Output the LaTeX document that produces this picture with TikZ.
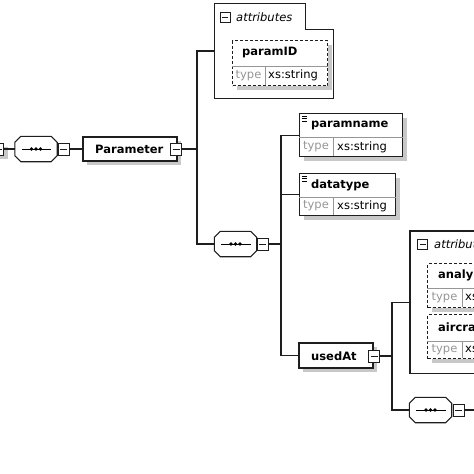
\documentclass[tikz,border=0pt]{standalone}
\usepackage{fontspec}
\setmainfont{DejaVu Sans}
\usetikzlibrary{shadows}
\definecolor{xsdline}{RGB}{30,30,30}
\definecolor{xsdgrey}{RGB}{150,150,150}
\definecolor{xsdshadow}{RGB}{200,200,200}

\begin{document}
\fontsize{11.5}{13}\selectfont
\begin{tikzpicture}[x=1pt,y=-1pt]

%
% Styles
%
\tikzstyle{lifted}    = [drop shadow={shadow xshift=4pt,shadow yshift=-4pt,fill=xsdshadow,opacity=1}]
\tikzstyle{element}   = [rectangle,draw=xsdline,fill=white,line width=1.1pt,inner sep=0pt,lifted]
\tikzstyle{attribute} = [element,dash pattern=on 3pt off 2pt]
\tikzstyle{sequence}  = [rectangle,minimum width=42pt,minimum height=25pt,inner sep=0pt]
\tikzstyle{collapse}  = [rectangle,draw=xsdline,fill=white,line width=1pt,minimum width=11pt,minimum height=12pt,inner sep=0pt,
                         path picture={\draw[line width=0.9pt] ([xshift=2pt]path picture bounding box.west) -- ([xshift=-2pt]path picture bounding box.east);}]
\tikzstyle{elemname}  = [anchor=west,inner sep=0pt,font=\bfseries]
\tikzstyle{typekey}   = [inner sep=0pt,text=xsdgrey]
\tikzstyle{typeval}   = [anchor=west,inner sep=0pt]
\tikzstyle{divider}   = [draw=xsdgrey,line width=0.8pt]
\tikzstyle{link}      = [draw=xsdline,line width=1.1pt]

\useasboundingbox (0,0) rectangle (474,474);
\clip (0,0) rectangle (474,474);

% Parameter and its parent
\node[collapse,lifted] (stub) at (-2,149) {};
\node[element,minimum width=94pt,minimum height=24pt] (param) at (130,149) {};
\node[elemname] (paramn) at (95,149) {Parameter};
\node[collapse] (paramf) at (176,149) {};
\coordinate (fork1) at (197,149);

% attributes of Parameter
\node[minimum width=118pt,minimum height=94pt,inner sep=0pt] (attrs1) at (274,51) {};
\draw[link,fill=white] (attrs1.north west) -- ++(91,0) -- ++(0,26) -| (attrs1.south east) -| (attrs1.north west) -- cycle;
\node[collapse,minimum width=10pt,minimum height=10pt] (attrs1f) at (225,17) {};
\node[anchor=west,inner sep=0pt,font=\itshape] (attrs1t) at (236,17) {attributes};

\node[attribute,minimum width=95pt,minimum height=45pt,anchor=north west] (pid) at (232,40) {};
\draw[divider] (pid.west |- 0,66) -- (pid.east |- 0,66) (265,66) -- (265,85);
\node[elemname] (pidn) at (242,53) {paramID};
\node[typekey] (pidk) at (248.5,75.5) {type};
\node[typeval] (pidv) at (268,75.5) {xs:string};

% children of the sequence
\node[element,minimum width=103pt,minimum height=43pt,anchor=north west] (pname) at (299,113) {};
\draw[divider] (pname.west |- 0,137) -- (pname.east |- 0,137) (333,137) -- (333,156);
\draw[line width=0.8pt] (302,116) -- ++(5,0) (302,118.5) -- ++(5,0) (302,121) -- ++(5,0);
\node[elemname] (pnamen) at (311,125) {paramname};
\node[typekey] (pnamek) at (316,147) {type};
\node[typeval] (pnamev) at (337,147) {xs:string};

\node[element,minimum width=96pt,minimum height=42pt,anchor=north west] (dtype) at (299,173) {};
\draw[divider] (dtype.west |- 0,197) -- (dtype.east |- 0,197) (333,197) -- (333,215);
\draw[line width=0.8pt] (302,176) -- ++(5,0) (302,178.5) -- ++(5,0) (302,181) -- ++(5,0);
\node[elemname] (dtypen) at (311,185) {datatype};
\node[typekey] (dtypek) at (316,206) {type};
\node[typeval] (dtypev) at (337,206) {xs:string};

\node[element,minimum width=74pt,minimum height=25pt] (usedat) at (336,355.5) {};
\node[elemname] (usedatn) at (311,356) {usedAt};
\node[collapse] (usedatf) at (374,356) {};
\coordinate (fork3) at (392,356);

% attributes of usedAt
\node[minimum width=140pt,minimum height=142pt,inner sep=0pt,anchor=north west] (attrs2) at (410,231) {};
\draw[link,fill=white] (attrs2.north west) -- ++(91,0) -- ++(0,26) -| (attrs2.south east) -| (attrs2.north west) -- cycle;
\node[collapse,minimum width=10pt,minimum height=10pt] (attrs2f) at (422.5,244) {};
\node[anchor=west,inner sep=0pt,font=\itshape] (attrs2t) at (434,244) {attributes};

\node[attribute,minimum width=95pt,minimum height=44pt,anchor=north west] (analy) at (427,263) {};
\draw[divider] (analy.west |- 0,288) -- (analy.east |- 0,288) (462,288) -- (462,307);
\node[elemname] (analyn) at (438,275.5) {analy};
\node[typekey] (analyk) at (444.5,297.5) {type};
\node[typeval] (analyv) at (465,297.5) {xs:string};

\node[attribute,minimum width=95pt,minimum height=44pt,anchor=north west] (acraft) at (427,314) {};
\draw[divider] (acraft.west |- 0,341) -- (acraft.east |- 0,341) (462,341) -- (462,358);
\node[elemname] (acraftn) at (438,327.5) {aircra};
\node[typekey] (acraftk) at (444.5,349.5) {type};
\node[typeval] (acraftv) at (465,349.5) {xs:string};

% sequences
\node[sequence] (seq1) at (36,149) {};
\node[sequence] (seq2) at (235.5,244) {};
\node[sequence] (seq3) at (430.5,410) {};
\foreach \s in {seq1,seq2,seq3} {
  \fill[xsdshadow,shift={(4pt,-4pt)}] ([xshift=6pt]\s.north west) -- ([xshift=-6pt]\s.north east) -- ([yshift=-6pt]\s.north east)
    -- ([yshift=6pt]\s.south east) -- ([xshift=-6pt]\s.south east) -- ([xshift=6pt]\s.south west)
    -- ([yshift=6pt]\s.south west) -- ([yshift=-6pt]\s.north west) -- cycle;
  \draw[link,fill=white] ([xshift=6pt]\s.north west) -- ([xshift=-6pt]\s.north east) -- ([yshift=-6pt]\s.north east)
    -- ([yshift=6pt]\s.south east) -- ([xshift=-6pt]\s.south east) -- ([xshift=6pt]\s.south west)
    -- ([yshift=6pt]\s.south west) -- ([yshift=-6pt]\s.north west) -- cycle;
  \draw[line width=1pt] ([xshift=7pt]\s.west) -- ([xshift=-6pt]\s.east);
  \fill ([xshift=-4.5pt]\s.center) circle (1.8pt) (\s.center) circle (1.8pt) ([xshift=4.5pt]\s.center) circle (1.8pt);
}
\node[collapse] (seq1f) at (63.5,149) {};
\node[collapse] (seq2f) at (262.5,244) {};
\node[collapse] (seq3f) at (458.5,410) {};
\coordinate (fork2) at (281,244);
\coordinate (seqend) at (480,410);

% connectors
\draw[link] (stub) -- (seq1);
\draw[link] (seq1f) -- (param);
\draw[link] (paramf) -- (fork1);
\draw[link] (fork1) |- (attrs1);
\draw[link] (fork1) |- (seq2);
\draw[link] (seq2f) -- (fork2);
\draw[link] (fork2) |- (pname);
\draw[link] (fork2) |- (dtype);
\draw[link] (fork2) |- (usedat);
\draw[link] (usedatf) -- (fork3);
\draw[link] (fork3) |- (attrs2);
\draw[link] (fork3) |- (seq3);
\draw[link] (seq3f) -- (seqend);

\end{tikzpicture}
\end{document}
